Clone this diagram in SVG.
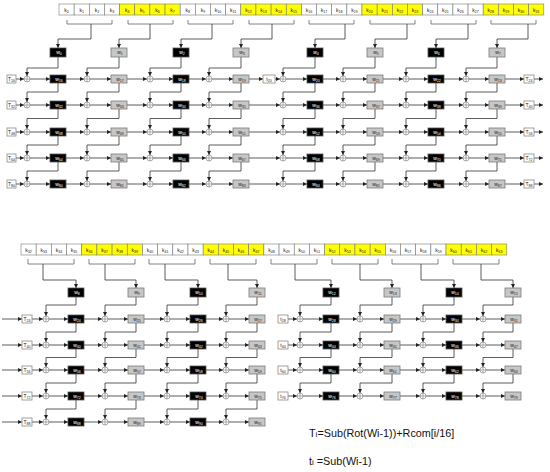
<svg xmlns="http://www.w3.org/2000/svg" width="550" height="472" viewBox="0 0 550 472">
<defs>
<style>
text{font-family:"Liberation Sans",Arial,sans-serif;font-size:5px;text-anchor:middle;fill:#222}
.sub{font-size:3.6px}
.k rect{fill:#fff;stroke:#7a7a7a;stroke-width:.6}
.y rect{fill:#ffff00;stroke:#7a7a7a;stroke-width:.6}
.b rect{fill:#000;stroke:#555;stroke-width:.8}
.b text{fill:#fff}
.g rect{fill:#c6c6c6;stroke:#7a7a7a;stroke-width:.8}
.t rect{fill:#fff;stroke:#8a8a8a;stroke-width:.8}
#cn path{fill:none;stroke:#333;stroke-width:.8}
#cn path.a{marker-end:url(#ar)}
#cn path.br{stroke:#666}
text.f{font-size:10.8px;text-anchor:start;fill:#111}
</style>
<marker id="ar" markerWidth="4" markerHeight="4" refX="4" refY="2" orient="auto" markerUnits="userSpaceOnUse"><path d="M0,0L4,2L0,4z" fill="#222"/></marker>
<g id="xo"><circle r="3" fill="#fff" stroke="#8a8a8a" stroke-width=".7"/><path d="M-3,0H3M0,-3V3" stroke="#8a8a8a" stroke-width=".7"/></g>
</defs>
<rect width="550" height="472" fill="#fff"/>

<g id="connectors">
<g id="cn">
<path class="br" d="M67,20V24H112V20M128,20V24H173V20M188,20V24H233V20M249,20V24H294V20M309,20V24H354V20M370,20V24H415V20M431,20V24H476V20M491,20V24H536V20"/>
<path class="a" d="M91,24V39H58V48"/><path class="a" d="M150,24V39H119V48"/><path class="a" d="M212,24V39H181V48"/><path class="a" d="M272,24V39H241V48"/>
<path class="a" d="M345,24V39H315V48"/><path class="a" d="M407,24V39H375V48"/><path class="a" d="M468,24V39H436V48"/><path class="a" d="M528,24V39H497V48"/>
<path class="a" d="M58,57V68H27V76"/><path class="a" d="M119,57V68H87V76"/><path class="a" d="M181,57V68H150V76"/><path class="a" d="M241,57V68H209V76"/>
<path class="a" d="M315,57V68H283V76"/><path class="a" d="M375,57V68H343V76"/><path class="a" d="M436,57V68H406V76"/><path class="a" d="M497,57V68H466V76"/>
<path class="a" d="M58,83V92H27V102"/><path class="a" d="M119,83V92H87V102"/><path class="a" d="M181,83V92H150V102"/><path class="a" d="M241,83V92H209V102"/>
<path class="a" d="M315,83V92H283V102"/><path class="a" d="M375,83V92H343V102"/><path class="a" d="M436,83V92H406V102"/><path class="a" d="M497,83V92H466V102"/>
<path class="a" d="M58,109V118.5H27V129"/><path class="a" d="M119,109V118.5H87V129"/><path class="a" d="M181,109V118.5H150V129"/><path class="a" d="M241,109V118.5H209V129"/>
<path class="a" d="M315,109V118.5H283V129"/><path class="a" d="M375,109V118.5H343V129"/><path class="a" d="M436,109V118.5H406V129"/><path class="a" d="M497,109V118.5H466V129"/>
<path class="a" d="M58,136V145H27V155"/><path class="a" d="M119,136V145H87V155"/><path class="a" d="M181,136V145H150V155"/><path class="a" d="M241,136V145H209V155"/>
<path class="a" d="M315,136V145H283V155"/><path class="a" d="M375,136V145H343V155"/><path class="a" d="M436,136V145H406V155"/><path class="a" d="M497,136V145H466V155"/>
<path class="a" d="M58,162V171H27V181"/><path class="a" d="M119,162V171H87V181"/><path class="a" d="M181,162V171H150V181"/><path class="a" d="M241,162V171H209V181"/>
<path class="a" d="M315,162V171H283V181"/><path class="a" d="M375,162V171H343V181"/><path class="a" d="M436,162V171H406V181"/><path class="a" d="M497,162V171H466V181"/>

<path class="a" d="M16,79H24"/><path class="a" d="M30,79H50"/><path class="a" d="M66,79H84"/><path class="a" d="M90,79H111"/><path class="a" d="M127,79H147"/><path class="a" d="M153,79H173"/><path class="a" d="M189,79H206"/><path class="a" d="M212,79H233"/><path class="a" d="M249,79H263"/><path class="a" d="M275,79H280"/><path class="a" d="M286,79H307"/><path class="a" d="M323,79H340"/><path class="a" d="M346,79H367"/><path class="a" d="M383,79H403"/><path class="a" d="M409,79H428"/><path class="a" d="M444,79H463"/><path class="a" d="M469,79H489"/><path class="a" d="M505,79H524"/><path class="a" d="M534,79H543"/>
<path class="a" d="M16,105H24"/><path class="a" d="M30,105H50"/><path class="a" d="M66,105H84"/><path class="a" d="M90,105H111"/><path class="a" d="M127,105H147"/><path class="a" d="M153,105H173"/><path class="a" d="M189,105H206"/><path class="a" d="M212,105H233"/><path class="a" d="M249,105H280"/><path class="a" d="M286,105H307"/><path class="a" d="M323,105H340"/><path class="a" d="M346,105H367"/><path class="a" d="M383,105H403"/><path class="a" d="M409,105H428"/><path class="a" d="M444,105H463"/><path class="a" d="M469,105H489"/><path class="a" d="M505,105H524"/><path class="a" d="M534,105H543"/>
<path class="a" d="M16,132H24"/><path class="a" d="M30,132H50"/><path class="a" d="M66,132H84"/><path class="a" d="M90,132H111"/><path class="a" d="M127,132H147"/><path class="a" d="M153,132H173"/><path class="a" d="M189,132H206"/><path class="a" d="M212,132H233"/><path class="a" d="M249,132H280"/><path class="a" d="M286,132H307"/><path class="a" d="M323,132H340"/><path class="a" d="M346,132H367"/><path class="a" d="M383,132H403"/><path class="a" d="M409,132H428"/><path class="a" d="M444,132H463"/><path class="a" d="M469,132H489"/><path class="a" d="M505,132H524"/><path class="a" d="M534,132H543"/>
<path class="a" d="M16,158H24"/><path class="a" d="M30,158H50"/><path class="a" d="M66,158H84"/><path class="a" d="M90,158H111"/><path class="a" d="M127,158H147"/><path class="a" d="M153,158H173"/><path class="a" d="M189,158H206"/><path class="a" d="M212,158H233"/><path class="a" d="M249,158H280"/><path class="a" d="M286,158H307"/><path class="a" d="M323,158H340"/><path class="a" d="M346,158H367"/><path class="a" d="M383,158H403"/><path class="a" d="M409,158H428"/><path class="a" d="M444,158H463"/><path class="a" d="M469,158H489"/><path class="a" d="M505,158H524"/><path class="a" d="M534,158H543"/>
<path class="a" d="M16,184H24"/><path class="a" d="M30,184H50"/><path class="a" d="M66,184H84"/><path class="a" d="M90,184H111"/><path class="a" d="M127,184H147"/><path class="a" d="M153,184H173"/><path class="a" d="M189,184H206"/><path class="a" d="M212,184H233"/><path class="a" d="M249,184H280"/><path class="a" d="M286,184H307"/><path class="a" d="M323,184H340"/><path class="a" d="M346,184H367"/><path class="a" d="M383,184H403"/><path class="a" d="M409,184H428"/><path class="a" d="M444,184H463"/><path class="a" d="M469,184H489"/><path class="a" d="M505,184H524"/><path class="a" d="M534,184H543"/>

<path class="br" d="M28,259V264H74V259M89,259V264H135V259M149,259V264H195V259M210,259V264H256V259M271,259V264H317V259M332,259V264H378V259M392,259V264H438V259M453,259V264H499V259"/>
<path class="a" d="M43,264V280H76V288"/><path class="a" d="M105,264V280H136V288"/><path class="a" d="M165,264V280H198V288"/><path class="a" d="M228,264V280H257V288"/>
<path class="a" d="M295,264V280H331V288"/><path class="a" d="M360,264V280H392V288"/><path class="a" d="M421,264V280H454V288"/><path class="a" d="M481,264V280H513V288"/>
<path class="a" d="M76,297V305H46V316"/><path class="a" d="M136,297V305H105V316"/><path class="a" d="M198,297V305H167V316"/><path class="a" d="M257,297V305H226V316"/>
<path class="a" d="M331,297V305H300V316"/><path class="a" d="M392,297V305H360V316"/><path class="a" d="M454,297V305H423V316"/><path class="a" d="M513,297V305H483V316"/>
<path class="a" d="M76,323V332H46V342"/><path class="a" d="M136,323V332H105V342"/><path class="a" d="M198,323V332H167V342"/><path class="a" d="M257,323V332H226V342"/>
<path class="a" d="M331,323V332H300V342"/><path class="a" d="M392,323V332H360V342"/><path class="a" d="M454,323V332H423V342"/><path class="a" d="M513,323V332H483V342"/>
<path class="a" d="M76,349V357.5H46V367"/><path class="a" d="M136,349V357.5H105V367"/><path class="a" d="M198,349V357.5H167V367"/><path class="a" d="M257,349V357.5H226V367"/>
<path class="a" d="M331,349V357.5H300V367"/><path class="a" d="M392,349V357.5H360V367"/><path class="a" d="M454,349V357.5H423V367"/><path class="a" d="M513,349V357.5H483V367"/>
<path class="a" d="M76,374V383H46V393"/><path class="a" d="M136,374V383H105V393"/><path class="a" d="M198,374V383H167V393"/><path class="a" d="M257,374V383H226V393"/>
<path class="a" d="M331,374V383H300V393"/><path class="a" d="M392,374V383H360V393"/><path class="a" d="M454,374V383H423V393"/><path class="a" d="M513,374V383H483V393"/>
<path class="a" d="M76,400V409H46V419"/><path class="a" d="M136,400V409H105V419"/><path class="a" d="M198,400V409H167V419"/><path class="a" d="M257,400V409H226V419"/>

<path class="a" d="M2,319H22"/><path class="a" d="M32,319H43"/><path class="a" d="M49,319H68"/><path class="a" d="M84,319H102"/><path class="a" d="M108,319H128"/><path class="a" d="M144,319H164"/><path class="a" d="M170,319H190"/><path class="a" d="M206,319H223"/><path class="a" d="M229,319H249"/><path class="a" d="M288,319H297"/><path class="a" d="M303,319H323"/><path class="a" d="M339,319H357"/><path class="a" d="M363,319H384"/><path class="a" d="M400,319H420"/><path class="a" d="M426,319H446"/><path class="a" d="M462,319H480"/><path class="a" d="M486,319H505"/>
<path class="a" d="M2,345H22"/><path class="a" d="M32,345H43"/><path class="a" d="M49,345H68"/><path class="a" d="M84,345H102"/><path class="a" d="M108,345H128"/><path class="a" d="M144,345H164"/><path class="a" d="M170,345H190"/><path class="a" d="M206,345H223"/><path class="a" d="M229,345H249"/><path class="a" d="M288,345H297"/><path class="a" d="M303,345H323"/><path class="a" d="M339,345H357"/><path class="a" d="M363,345H384"/><path class="a" d="M400,345H420"/><path class="a" d="M426,345H446"/><path class="a" d="M462,345H480"/><path class="a" d="M486,345H505"/>
<path class="a" d="M2,370H22"/><path class="a" d="M32,370H43"/><path class="a" d="M49,370H68"/><path class="a" d="M84,370H102"/><path class="a" d="M108,370H128"/><path class="a" d="M144,370H164"/><path class="a" d="M170,370H190"/><path class="a" d="M206,370H223"/><path class="a" d="M229,370H249"/><path class="a" d="M288,370H297"/><path class="a" d="M303,370H323"/><path class="a" d="M339,370H357"/><path class="a" d="M363,370H384"/><path class="a" d="M400,370H420"/><path class="a" d="M426,370H446"/><path class="a" d="M462,370H480"/><path class="a" d="M486,370H505"/>
<path class="a" d="M2,396H22"/><path class="a" d="M32,396H43"/><path class="a" d="M49,396H68"/><path class="a" d="M84,396H102"/><path class="a" d="M108,396H128"/><path class="a" d="M144,396H164"/><path class="a" d="M170,396H190"/><path class="a" d="M206,396H223"/><path class="a" d="M229,396H249"/><path class="a" d="M288,396H297"/><path class="a" d="M303,396H323"/><path class="a" d="M339,396H357"/><path class="a" d="M363,396H384"/><path class="a" d="M400,396H420"/><path class="a" d="M426,396H446"/><path class="a" d="M462,396H480"/><path class="a" d="M486,396H505"/>
<path class="a" d="M2,422H22"/><path class="a" d="M32,422H43"/><path class="a" d="M49,422H68"/><path class="a" d="M84,422H102"/><path class="a" d="M108,422H128"/><path class="a" d="M144,422H164"/><path class="a" d="M170,422H190"/><path class="a" d="M206,422H223"/><path class="a" d="M229,422H249"/>
</g>
</g>

<g id="keys-top">
<g id="k0" class="k"><rect x="59" y="4" width="15.15" height="11"/><text x="66.6" y="11.5">k<tspan class="sub" dy="1">0</tspan></text></g>
<g id="k1" class="k"><rect x="74.15" y="4" width="15.15" height="11"/><text x="81.7" y="11.5">k<tspan class="sub" dy="1">1</tspan></text></g>
<g id="k2" class="k"><rect x="89.3" y="4" width="15.15" height="11"/><text x="96.9" y="11.5">k<tspan class="sub" dy="1">2</tspan></text></g>
<g id="k3" class="k"><rect x="104.45" y="4" width="15.15" height="11"/><text x="112" y="11.5">k<tspan class="sub" dy="1">3</tspan></text></g>
<g id="k4" class="y"><rect x="119.6" y="4" width="15.15" height="11"/><text x="127.2" y="11.5">k<tspan class="sub" dy="1">4</tspan></text></g>
<g id="k5" class="y"><rect x="134.75" y="4" width="15.15" height="11"/><text x="142.3" y="11.5">k<tspan class="sub" dy="1">5</tspan></text></g>
<g id="k6" class="y"><rect x="149.9" y="4" width="15.15" height="11"/><text x="157.5" y="11.5">k<tspan class="sub" dy="1">6</tspan></text></g>
<g id="k7" class="y"><rect x="165.05" y="4" width="15.15" height="11"/><text x="172.6" y="11.5">k<tspan class="sub" dy="1">7</tspan></text></g>
<g id="k8" class="k"><rect x="180.2" y="4" width="15.15" height="11"/><text x="187.8" y="11.5">k<tspan class="sub" dy="1">8</tspan></text></g>
<g id="k9" class="k"><rect x="195.35" y="4" width="15.15" height="11"/><text x="202.9" y="11.5">k<tspan class="sub" dy="1">9</tspan></text></g>
<g id="k10" class="k"><rect x="210.5" y="4" width="15.15" height="11"/><text x="218.1" y="11.5">k<tspan class="sub" dy="1">10</tspan></text></g>
<g id="k11" class="k"><rect x="225.65" y="4" width="15.15" height="11"/><text x="233.2" y="11.5">k<tspan class="sub" dy="1">11</tspan></text></g>
<g id="k12" class="y"><rect x="240.8" y="4" width="15.15" height="11"/><text x="248.4" y="11.5">k<tspan class="sub" dy="1">12</tspan></text></g>
<g id="k13" class="y"><rect x="255.95" y="4" width="15.15" height="11"/><text x="263.5" y="11.5">k<tspan class="sub" dy="1">13</tspan></text></g>
<g id="k14" class="y"><rect x="271.1" y="4" width="15.15" height="11"/><text x="278.7" y="11.5">k<tspan class="sub" dy="1">14</tspan></text></g>
<g id="k15" class="y"><rect x="286.25" y="4" width="15.15" height="11"/><text x="293.8" y="11.5">k<tspan class="sub" dy="1">15</tspan></text></g>
<g id="k16" class="k"><rect x="301.4" y="4" width="15.15" height="11"/><text x="309" y="11.5">k<tspan class="sub" dy="1">16</tspan></text></g>
<g id="k17" class="k"><rect x="316.55" y="4" width="15.15" height="11"/><text x="324.1" y="11.5">k<tspan class="sub" dy="1">17</tspan></text></g>
<g id="k18" class="k"><rect x="331.7" y="4" width="15.15" height="11"/><text x="339.3" y="11.5">k<tspan class="sub" dy="1">18</tspan></text></g>
<g id="k19" class="k"><rect x="346.85" y="4" width="15.15" height="11"/><text x="354.4" y="11.5">k<tspan class="sub" dy="1">19</tspan></text></g>
<g id="k20" class="y"><rect x="362" y="4" width="15.15" height="11"/><text x="369.6" y="11.5">k<tspan class="sub" dy="1">20</tspan></text></g>
<g id="k21" class="y"><rect x="377.15" y="4" width="15.15" height="11"/><text x="384.7" y="11.5">k<tspan class="sub" dy="1">21</tspan></text></g>
<g id="k22" class="y"><rect x="392.3" y="4" width="15.15" height="11"/><text x="399.9" y="11.5">k<tspan class="sub" dy="1">22</tspan></text></g>
<g id="k23" class="y"><rect x="407.45" y="4" width="15.15" height="11"/><text x="415" y="11.5">k<tspan class="sub" dy="1">23</tspan></text></g>
<g id="k24" class="k"><rect x="422.6" y="4" width="15.15" height="11"/><text x="430.2" y="11.5">k<tspan class="sub" dy="1">24</tspan></text></g>
<g id="k25" class="k"><rect x="437.75" y="4" width="15.15" height="11"/><text x="445.3" y="11.5">k<tspan class="sub" dy="1">25</tspan></text></g>
<g id="k26" class="k"><rect x="452.9" y="4" width="15.15" height="11"/><text x="460.5" y="11.5">k<tspan class="sub" dy="1">26</tspan></text></g>
<g id="k27" class="k"><rect x="468.05" y="4" width="15.15" height="11"/><text x="475.6" y="11.5">k<tspan class="sub" dy="1">27</tspan></text></g>
<g id="k28" class="y"><rect x="483.2" y="4" width="15.15" height="11"/><text x="490.8" y="11.5">k<tspan class="sub" dy="1">28</tspan></text></g>
<g id="k29" class="y"><rect x="498.35" y="4" width="15.15" height="11"/><text x="505.9" y="11.5">k<tspan class="sub" dy="1">29</tspan></text></g>
<g id="k30" class="y"><rect x="513.5" y="4" width="15.15" height="11"/><text x="521.1" y="11.5">k<tspan class="sub" dy="1">30</tspan></text></g>
<g id="k31" class="y"><rect x="528.65" y="4" width="15.15" height="11"/><text x="536.2" y="11.5">k<tspan class="sub" dy="1">31</tspan></text></g>
</g>

<g id="keys-bottom">
<g id="k32" class="k"><rect x="21" y="244" width="15.18" height="11"/><text x="28.6" y="251.5">k<tspan class="sub" dy="1">32</tspan></text></g>
<g id="k33" class="k"><rect x="36.18" y="244" width="15.18" height="11"/><text x="43.8" y="251.5">k<tspan class="sub" dy="1">33</tspan></text></g>
<g id="k34" class="k"><rect x="51.36" y="244" width="15.18" height="11"/><text x="58.9" y="251.5">k<tspan class="sub" dy="1">34</tspan></text></g>
<g id="k35" class="k"><rect x="66.54" y="244" width="15.18" height="11"/><text x="74.1" y="251.5">k<tspan class="sub" dy="1">35</tspan></text></g>
<g id="k36" class="y"><rect x="81.72" y="244" width="15.18" height="11"/><text x="89.3" y="251.5">k<tspan class="sub" dy="1">36</tspan></text></g>
<g id="k37" class="y"><rect x="96.9" y="244" width="15.18" height="11"/><text x="104.5" y="251.5">k<tspan class="sub" dy="1">37</tspan></text></g>
<g id="k38" class="y"><rect x="112.08" y="244" width="15.18" height="11"/><text x="119.7" y="251.5">k<tspan class="sub" dy="1">38</tspan></text></g>
<g id="k39" class="y"><rect x="127.26" y="244" width="15.18" height="11"/><text x="134.8" y="251.5">k<tspan class="sub" dy="1">39</tspan></text></g>
<g id="k40" class="k"><rect x="142.44" y="244" width="15.18" height="11"/><text x="150" y="251.5">k<tspan class="sub" dy="1">40</tspan></text></g>
<g id="k41" class="k"><rect x="157.62" y="244" width="15.18" height="11"/><text x="165.2" y="251.5">k<tspan class="sub" dy="1">41</tspan></text></g>
<g id="k42" class="k"><rect x="172.8" y="244" width="15.18" height="11"/><text x="180.4" y="251.5">k<tspan class="sub" dy="1">42</tspan></text></g>
<g id="k43" class="k"><rect x="187.98" y="244" width="15.18" height="11"/><text x="195.6" y="251.5">k<tspan class="sub" dy="1">43</tspan></text></g>
<g id="k44" class="y"><rect x="203.16" y="244" width="15.18" height="11"/><text x="210.7" y="251.5">k<tspan class="sub" dy="1">44</tspan></text></g>
<g id="k45" class="y"><rect x="218.34" y="244" width="15.18" height="11"/><text x="225.9" y="251.5">k<tspan class="sub" dy="1">45</tspan></text></g>
<g id="k46" class="y"><rect x="233.52" y="244" width="15.18" height="11"/><text x="241.1" y="251.5">k<tspan class="sub" dy="1">46</tspan></text></g>
<g id="k47" class="y"><rect x="248.7" y="244" width="15.18" height="11"/><text x="256.3" y="251.5">k<tspan class="sub" dy="1">47</tspan></text></g>
<g id="k48" class="k"><rect x="263.88" y="244" width="15.18" height="11"/><text x="271.5" y="251.5">k<tspan class="sub" dy="1">48</tspan></text></g>
<g id="k49" class="k"><rect x="279.06" y="244" width="15.18" height="11"/><text x="286.6" y="251.5">k<tspan class="sub" dy="1">49</tspan></text></g>
<g id="k50" class="k"><rect x="294.24" y="244" width="15.18" height="11"/><text x="301.8" y="251.5">k<tspan class="sub" dy="1">50</tspan></text></g>
<g id="k51" class="k"><rect x="309.42" y="244" width="15.18" height="11"/><text x="317" y="251.5">k<tspan class="sub" dy="1">51</tspan></text></g>
<g id="k52" class="y"><rect x="324.6" y="244" width="15.18" height="11"/><text x="332.2" y="251.5">k<tspan class="sub" dy="1">52</tspan></text></g>
<g id="k53" class="y"><rect x="339.78" y="244" width="15.18" height="11"/><text x="347.4" y="251.5">k<tspan class="sub" dy="1">53</tspan></text></g>
<g id="k54" class="y"><rect x="354.96" y="244" width="15.18" height="11"/><text x="362.6" y="251.5">k<tspan class="sub" dy="1">54</tspan></text></g>
<g id="k55" class="y"><rect x="370.14" y="244" width="15.18" height="11"/><text x="377.7" y="251.5">k<tspan class="sub" dy="1">55</tspan></text></g>
<g id="k56" class="k"><rect x="385.32" y="244" width="15.18" height="11"/><text x="392.9" y="251.5">k<tspan class="sub" dy="1">56</tspan></text></g>
<g id="k57" class="k"><rect x="400.5" y="244" width="15.18" height="11"/><text x="408.1" y="251.5">k<tspan class="sub" dy="1">57</tspan></text></g>
<g id="k58" class="k"><rect x="415.68" y="244" width="15.18" height="11"/><text x="423.3" y="251.5">k<tspan class="sub" dy="1">58</tspan></text></g>
<g id="k59" class="k"><rect x="430.86" y="244" width="15.18" height="11"/><text x="438.4" y="251.5">k<tspan class="sub" dy="1">59</tspan></text></g>
<g id="k60" class="y"><rect x="446.04" y="244" width="15.18" height="11"/><text x="453.6" y="251.5">k<tspan class="sub" dy="1">60</tspan></text></g>
<g id="k61" class="y"><rect x="461.22" y="244" width="15.18" height="11"/><text x="468.8" y="251.5">k<tspan class="sub" dy="1">61</tspan></text></g>
<g id="k62" class="y"><rect x="476.4" y="244" width="15.18" height="11"/><text x="484" y="251.5">k<tspan class="sub" dy="1">62</tspan></text></g>
<g id="k63" class="y"><rect x="491.58" y="244" width="15.18" height="11"/><text x="499.2" y="251.5">k<tspan class="sub" dy="1">63</tspan></text></g>
</g>

<g id="words-top">
<g id="w0" class="b"><rect x="50" y="48" width="16" height="9"/><text x="59" y="54.3">w<tspan class="sub" dy="1">0</tspan></text></g>
<g id="w1" class="g"><rect x="111" y="48" width="16" height="9"/><text x="120" y="54.3">w<tspan class="sub" dy="1">1</tspan></text></g>
<g id="w2" class="b"><rect x="173" y="48" width="16" height="9"/><text x="182" y="54.3">w<tspan class="sub" dy="1">2</tspan></text></g>
<g id="w3" class="g"><rect x="233" y="48" width="16" height="9"/><text x="242" y="54.3">w<tspan class="sub" dy="1">3</tspan></text></g>
<g id="w4" class="b"><rect x="307" y="48" width="16" height="9"/><text x="316" y="54.3">w<tspan class="sub" dy="1">4</tspan></text></g>
<g id="w5" class="g"><rect x="367" y="48" width="16" height="9"/><text x="376" y="54.3">w<tspan class="sub" dy="1">5</tspan></text></g>
<g id="w6" class="b"><rect x="428" y="48" width="16" height="9"/><text x="437" y="54.3">w<tspan class="sub" dy="1">6</tspan></text></g>
<g id="w7" class="g"><rect x="489" y="48" width="16" height="9"/><text x="498" y="54.3">w<tspan class="sub" dy="1">7</tspan></text></g>

<g id="T16" class="t"><rect x="7" y="75" width="9" height="8"/><text x="11.5" y="80.8">T<tspan class="sub" dy="1">16</tspan></text></g>
<g id="T32" class="t"><rect x="7" y="101" width="9" height="8"/><text x="11.5" y="106.8">T<tspan class="sub" dy="1">32</tspan></text></g>
<g id="T48" class="t"><rect x="7" y="128" width="9" height="8"/><text x="11.5" y="133.8">T<tspan class="sub" dy="1">48</tspan></text></g>
<g id="T64" class="t"><rect x="7" y="154" width="9" height="8"/><text x="11.5" y="159.8">T<tspan class="sub" dy="1">64</tspan></text></g>
<g id="T80" class="t"><rect x="7" y="180" width="9" height="8"/><text x="11.5" y="185.8">T<tspan class="sub" dy="1">80</tspan></text></g>
<g id="t20" class="t"><rect x="263" y="75" width="12" height="8"/><text x="269" y="80.8">t<tspan class="sub" dy="1">20</tspan></text></g>
<g id="T24r" class="t"><rect x="524" y="75" width="10" height="8"/><text x="529" y="80.8">T<tspan class="sub" dy="1">24</tspan></text></g>
<g id="T40r" class="t"><rect x="524" y="101" width="10" height="8"/><text x="529" y="106.8">T<tspan class="sub" dy="1">40</tspan></text></g>
<g id="T56r" class="t"><rect x="524" y="128" width="10" height="8"/><text x="529" y="133.8">T<tspan class="sub" dy="1">56</tspan></text></g>
<g id="T72r" class="t"><rect x="524" y="154" width="10" height="8"/><text x="529" y="159.8">T<tspan class="sub" dy="1">72</tspan></text></g>
<g id="T88r" class="t"><rect x="524" y="180" width="10" height="8"/><text x="529" y="185.8">T<tspan class="sub" dy="1">88</tspan></text></g>

<g id="w16" class="b"><rect x="50" y="75" width="16" height="8"/><text x="59" y="80.8">w<tspan class="sub" dy="1">16</tspan></text></g>
<g id="w17" class="g"><rect x="111" y="75" width="16" height="8"/><text x="120" y="80.8">w<tspan class="sub" dy="1">17</tspan></text></g>
<g id="w18" class="b"><rect x="173" y="75" width="16" height="8"/><text x="182" y="80.8">w<tspan class="sub" dy="1">18</tspan></text></g>
<g id="w19" class="g"><rect x="233" y="75" width="16" height="8"/><text x="242" y="80.8">w<tspan class="sub" dy="1">19</tspan></text></g>
<g id="w20" class="b"><rect x="307" y="75" width="16" height="8"/><text x="316" y="80.8">w<tspan class="sub" dy="1">20</tspan></text></g>
<g id="w21" class="g"><rect x="367" y="75" width="16" height="8"/><text x="376" y="80.8">w<tspan class="sub" dy="1">21</tspan></text></g>
<g id="w22" class="b"><rect x="428" y="75" width="16" height="8"/><text x="437" y="80.8">w<tspan class="sub" dy="1">22</tspan></text></g>
<g id="w23" class="g"><rect x="489" y="75" width="16" height="8"/><text x="498" y="80.8">w<tspan class="sub" dy="1">23</tspan></text></g>

<g id="w32" class="b"><rect x="50" y="101" width="16" height="8"/><text x="59" y="106.8">w<tspan class="sub" dy="1">32</tspan></text></g>
<g id="w33" class="g"><rect x="111" y="101" width="16" height="8"/><text x="120" y="106.8">w<tspan class="sub" dy="1">33</tspan></text></g>
<g id="w34" class="b"><rect x="173" y="101" width="16" height="8"/><text x="182" y="106.8">w<tspan class="sub" dy="1">34</tspan></text></g>
<g id="w35" class="g"><rect x="233" y="101" width="16" height="8"/><text x="242" y="106.8">w<tspan class="sub" dy="1">35</tspan></text></g>
<g id="w36" class="b"><rect x="307" y="101" width="16" height="8"/><text x="316" y="106.8">w<tspan class="sub" dy="1">36</tspan></text></g>
<g id="w37" class="g"><rect x="367" y="101" width="16" height="8"/><text x="376" y="106.8">w<tspan class="sub" dy="1">37</tspan></text></g>
<g id="w38" class="b"><rect x="428" y="101" width="16" height="8"/><text x="437" y="106.8">w<tspan class="sub" dy="1">38</tspan></text></g>
<g id="w39" class="g"><rect x="489" y="101" width="16" height="8"/><text x="498" y="106.8">w<tspan class="sub" dy="1">39</tspan></text></g>

<g id="w48" class="b"><rect x="50" y="128" width="16" height="8"/><text x="59" y="133.8">w<tspan class="sub" dy="1">48</tspan></text></g>
<g id="w49" class="g"><rect x="111" y="128" width="16" height="8"/><text x="120" y="133.8">w<tspan class="sub" dy="1">49</tspan></text></g>
<g id="w50" class="b"><rect x="173" y="128" width="16" height="8"/><text x="182" y="133.8">w<tspan class="sub" dy="1">50</tspan></text></g>
<g id="w51" class="g"><rect x="233" y="128" width="16" height="8"/><text x="242" y="133.8">w<tspan class="sub" dy="1">51</tspan></text></g>
<g id="w52" class="b"><rect x="307" y="128" width="16" height="8"/><text x="316" y="133.8">w<tspan class="sub" dy="1">52</tspan></text></g>
<g id="w53" class="g"><rect x="367" y="128" width="16" height="8"/><text x="376" y="133.8">w<tspan class="sub" dy="1">53</tspan></text></g>
<g id="w54" class="b"><rect x="428" y="128" width="16" height="8"/><text x="437" y="133.8">w<tspan class="sub" dy="1">54</tspan></text></g>
<g id="w55" class="g"><rect x="489" y="128" width="16" height="8"/><text x="498" y="133.8">w<tspan class="sub" dy="1">55</tspan></text></g>

<g id="w64" class="b"><rect x="50" y="154" width="16" height="8"/><text x="59" y="159.8">w<tspan class="sub" dy="1">64</tspan></text></g>
<g id="w65" class="g"><rect x="111" y="154" width="16" height="8"/><text x="120" y="159.8">w<tspan class="sub" dy="1">65</tspan></text></g>
<g id="w66" class="b"><rect x="173" y="154" width="16" height="8"/><text x="182" y="159.8">w<tspan class="sub" dy="1">66</tspan></text></g>
<g id="w67" class="g"><rect x="233" y="154" width="16" height="8"/><text x="242" y="159.8">w<tspan class="sub" dy="1">67</tspan></text></g>
<g id="w68" class="b"><rect x="307" y="154" width="16" height="8"/><text x="316" y="159.8">w<tspan class="sub" dy="1">68</tspan></text></g>
<g id="w69" class="g"><rect x="367" y="154" width="16" height="8"/><text x="376" y="159.8">w<tspan class="sub" dy="1">69</tspan></text></g>
<g id="w70" class="b"><rect x="428" y="154" width="16" height="8"/><text x="437" y="159.8">w<tspan class="sub" dy="1">70</tspan></text></g>
<g id="w71" class="g"><rect x="489" y="154" width="16" height="8"/><text x="498" y="159.8">w<tspan class="sub" dy="1">71</tspan></text></g>

<g id="w80" class="b"><rect x="50" y="180" width="16" height="8"/><text x="59" y="185.8">w<tspan class="sub" dy="1">80</tspan></text></g>
<g id="w81" class="g"><rect x="111" y="180" width="16" height="8"/><text x="120" y="185.8">w<tspan class="sub" dy="1">81</tspan></text></g>
<g id="w82" class="b"><rect x="173" y="180" width="16" height="8"/><text x="182" y="185.8">w<tspan class="sub" dy="1">82</tspan></text></g>
<g id="w83" class="g"><rect x="233" y="180" width="16" height="8"/><text x="242" y="185.8">w<tspan class="sub" dy="1">83</tspan></text></g>
<g id="w84" class="b"><rect x="307" y="180" width="16" height="8"/><text x="316" y="185.8">w<tspan class="sub" dy="1">84</tspan></text></g>
<g id="w85" class="g"><rect x="367" y="180" width="16" height="8"/><text x="376" y="185.8">w<tspan class="sub" dy="1">85</tspan></text></g>
<g id="w86" class="b"><rect x="428" y="180" width="16" height="8"/><text x="437" y="185.8">w<tspan class="sub" dy="1">86</tspan></text></g>
<g id="w87" class="g"><rect x="489" y="180" width="16" height="8"/><text x="498" y="185.8">w<tspan class="sub" dy="1">87</tspan></text></g>
</g>

<g id="xor-top">
<use href="#xo" x="27" y="79"/><use href="#xo" x="87" y="79"/><use href="#xo" x="150" y="79"/><use href="#xo" x="209" y="79"/><use href="#xo" x="283" y="79"/><use href="#xo" x="343" y="79"/><use href="#xo" x="406" y="79"/><use href="#xo" x="466" y="79"/>
<use href="#xo" x="27" y="105"/><use href="#xo" x="87" y="105"/><use href="#xo" x="150" y="105"/><use href="#xo" x="209" y="105"/><use href="#xo" x="283" y="105"/><use href="#xo" x="343" y="105"/><use href="#xo" x="406" y="105"/><use href="#xo" x="466" y="105"/>
<use href="#xo" x="27" y="132"/><use href="#xo" x="87" y="132"/><use href="#xo" x="150" y="132"/><use href="#xo" x="209" y="132"/><use href="#xo" x="283" y="132"/><use href="#xo" x="343" y="132"/><use href="#xo" x="406" y="132"/><use href="#xo" x="466" y="132"/>
<use href="#xo" x="27" y="158"/><use href="#xo" x="87" y="158"/><use href="#xo" x="150" y="158"/><use href="#xo" x="209" y="158"/><use href="#xo" x="283" y="158"/><use href="#xo" x="343" y="158"/><use href="#xo" x="406" y="158"/><use href="#xo" x="466" y="158"/>
<use href="#xo" x="27" y="184"/><use href="#xo" x="87" y="184"/><use href="#xo" x="150" y="184"/><use href="#xo" x="209" y="184"/><use href="#xo" x="283" y="184"/><use href="#xo" x="343" y="184"/><use href="#xo" x="406" y="184"/><use href="#xo" x="466" y="184"/>
</g>

<g id="words-bottom">
<g id="w8" class="b"><rect x="68" y="288" width="16" height="9"/><text x="77" y="294.3">w<tspan class="sub" dy="1">8</tspan></text></g>
<g id="w9" class="g"><rect x="128" y="288" width="16" height="9"/><text x="137" y="294.3">w<tspan class="sub" dy="1">9</tspan></text></g>
<g id="w10" class="b"><rect x="190" y="288" width="16" height="9"/><text x="199" y="294.3">w<tspan class="sub" dy="1">10</tspan></text></g>
<g id="w11" class="g"><rect x="249" y="288" width="16" height="9"/><text x="258" y="294.3">w<tspan class="sub" dy="1">11</tspan></text></g>
<g id="w12" class="b"><rect x="323" y="288" width="16" height="9"/><text x="332" y="294.3">w<tspan class="sub" dy="1">12</tspan></text></g>
<g id="w13" class="g"><rect x="384" y="288" width="16" height="9"/><text x="393" y="294.3">w<tspan class="sub" dy="1">13</tspan></text></g>
<g id="w14" class="b"><rect x="446" y="288" width="16" height="9"/><text x="455" y="294.3">w<tspan class="sub" dy="1">14</tspan></text></g>
<g id="w15" class="g"><rect x="505" y="288" width="16" height="9"/><text x="514" y="294.3">w<tspan class="sub" dy="1">15</tspan></text></g>

<g id="T24" class="t"><rect x="22" y="315" width="10" height="8"/><text x="27" y="320.8">T<tspan class="sub" dy="1">24</tspan></text></g>
<g id="T40" class="t"><rect x="22" y="341" width="10" height="8"/><text x="27" y="346.8">T<tspan class="sub" dy="1">40</tspan></text></g>
<g id="T56" class="t"><rect x="22" y="366" width="10" height="8"/><text x="27" y="371.8">T<tspan class="sub" dy="1">56</tspan></text></g>
<g id="T72" class="t"><rect x="22" y="392" width="10" height="8"/><text x="27" y="397.8">T<tspan class="sub" dy="1">72</tspan></text></g>
<g id="T88" class="t"><rect x="22" y="418" width="10" height="8"/><text x="27" y="423.8">T<tspan class="sub" dy="1">88</tspan></text></g>
<g id="t28" class="t"><rect x="278" y="315" width="10" height="8"/><text x="283" y="320.8">t<tspan class="sub" dy="1">28</tspan></text></g>
<g id="t44" class="t"><rect x="278" y="341" width="10" height="8"/><text x="283" y="346.8">t<tspan class="sub" dy="1">44</tspan></text></g>
<g id="t60" class="t"><rect x="278" y="366" width="10" height="8"/><text x="283" y="371.8">t<tspan class="sub" dy="1">60</tspan></text></g>
<g id="t76" class="t"><rect x="278" y="392" width="10" height="8"/><text x="283" y="397.8">t<tspan class="sub" dy="1">76</tspan></text></g>

<g id="w24" class="b"><rect x="68" y="315" width="16" height="8"/><text x="77" y="320.8">w<tspan class="sub" dy="1">24</tspan></text></g>
<g id="w25" class="g"><rect x="128" y="315" width="16" height="8"/><text x="137" y="320.8">w<tspan class="sub" dy="1">25</tspan></text></g>
<g id="w26" class="b"><rect x="190" y="315" width="16" height="8"/><text x="199" y="320.8">w<tspan class="sub" dy="1">26</tspan></text></g>
<g id="w27" class="g"><rect x="249" y="315" width="16" height="8"/><text x="258" y="320.8">w<tspan class="sub" dy="1">27</tspan></text></g>
<g id="w28" class="b"><rect x="323" y="315" width="16" height="8"/><text x="332" y="320.8">w<tspan class="sub" dy="1">28</tspan></text></g>
<g id="w29" class="g"><rect x="384" y="315" width="16" height="8"/><text x="393" y="320.8">w<tspan class="sub" dy="1">29</tspan></text></g>
<g id="w30" class="b"><rect x="446" y="315" width="16" height="8"/><text x="455" y="320.8">w<tspan class="sub" dy="1">30</tspan></text></g>
<g id="w31" class="g"><rect x="505" y="315" width="16" height="8"/><text x="514" y="320.8">w<tspan class="sub" dy="1">31</tspan></text></g>

<g id="w40" class="b"><rect x="68" y="341" width="16" height="8"/><text x="77" y="346.8">w<tspan class="sub" dy="1">40</tspan></text></g>
<g id="w41" class="g"><rect x="128" y="341" width="16" height="8"/><text x="137" y="346.8">w<tspan class="sub" dy="1">41</tspan></text></g>
<g id="w42" class="b"><rect x="190" y="341" width="16" height="8"/><text x="199" y="346.8">w<tspan class="sub" dy="1">42</tspan></text></g>
<g id="w43" class="g"><rect x="249" y="341" width="16" height="8"/><text x="258" y="346.8">w<tspan class="sub" dy="1">43</tspan></text></g>
<g id="w44" class="b"><rect x="323" y="341" width="16" height="8"/><text x="332" y="346.8">w<tspan class="sub" dy="1">44</tspan></text></g>
<g id="w45" class="g"><rect x="384" y="341" width="16" height="8"/><text x="393" y="346.8">w<tspan class="sub" dy="1">45</tspan></text></g>
<g id="w46" class="b"><rect x="446" y="341" width="16" height="8"/><text x="455" y="346.8">w<tspan class="sub" dy="1">46</tspan></text></g>
<g id="w47" class="g"><rect x="505" y="341" width="16" height="8"/><text x="514" y="346.8">w<tspan class="sub" dy="1">47</tspan></text></g>

<g id="w56" class="b"><rect x="68" y="366" width="16" height="8"/><text x="77" y="371.8">w<tspan class="sub" dy="1">56</tspan></text></g>
<g id="w57" class="g"><rect x="128" y="366" width="16" height="8"/><text x="137" y="371.8">w<tspan class="sub" dy="1">57</tspan></text></g>
<g id="w58" class="b"><rect x="190" y="366" width="16" height="8"/><text x="199" y="371.8">w<tspan class="sub" dy="1">58</tspan></text></g>
<g id="w59" class="g"><rect x="249" y="366" width="16" height="8"/><text x="258" y="371.8">w<tspan class="sub" dy="1">59</tspan></text></g>
<g id="w60" class="b"><rect x="323" y="366" width="16" height="8"/><text x="332" y="371.8">w<tspan class="sub" dy="1">60</tspan></text></g>
<g id="w61" class="g"><rect x="384" y="366" width="16" height="8"/><text x="393" y="371.8">w<tspan class="sub" dy="1">61</tspan></text></g>
<g id="w62" class="b"><rect x="446" y="366" width="16" height="8"/><text x="455" y="371.8">w<tspan class="sub" dy="1">62</tspan></text></g>
<g id="w63" class="g"><rect x="505" y="366" width="16" height="8"/><text x="514" y="371.8">w<tspan class="sub" dy="1">63</tspan></text></g>

<g id="w72" class="b"><rect x="68" y="392" width="16" height="8"/><text x="77" y="397.8">w<tspan class="sub" dy="1">72</tspan></text></g>
<g id="w73" class="g"><rect x="128" y="392" width="16" height="8"/><text x="137" y="397.8">w<tspan class="sub" dy="1">73</tspan></text></g>
<g id="w74" class="b"><rect x="190" y="392" width="16" height="8"/><text x="199" y="397.8">w<tspan class="sub" dy="1">74</tspan></text></g>
<g id="w75" class="g"><rect x="249" y="392" width="16" height="8"/><text x="258" y="397.8">w<tspan class="sub" dy="1">75</tspan></text></g>
<g id="w76" class="b"><rect x="323" y="392" width="16" height="8"/><text x="332" y="397.8">w<tspan class="sub" dy="1">76</tspan></text></g>
<g id="w77" class="g"><rect x="384" y="392" width="16" height="8"/><text x="393" y="397.8">w<tspan class="sub" dy="1">77</tspan></text></g>
<g id="w78" class="b"><rect x="446" y="392" width="16" height="8"/><text x="455" y="397.8">w<tspan class="sub" dy="1">78</tspan></text></g>
<g id="w79" class="g"><rect x="505" y="392" width="16" height="8"/><text x="514" y="397.8">w<tspan class="sub" dy="1">79</tspan></text></g>

<g id="w88" class="b"><rect x="68" y="418" width="16" height="8"/><text x="77" y="423.8">w<tspan class="sub" dy="1">88</tspan></text></g>
<g id="w89" class="g"><rect x="128" y="418" width="16" height="8"/><text x="137" y="423.8">w<tspan class="sub" dy="1">89</tspan></text></g>
<g id="w90" class="b"><rect x="190" y="418" width="16" height="8"/><text x="199" y="423.8">w<tspan class="sub" dy="1">90</tspan></text></g>
<g id="w91" class="g"><rect x="249" y="418" width="16" height="8"/><text x="258" y="423.8">w<tspan class="sub" dy="1">91</tspan></text></g>
</g>

<g id="xor-bottom">
<use href="#xo" x="46" y="319"/><use href="#xo" x="105" y="319"/><use href="#xo" x="167" y="319"/><use href="#xo" x="226" y="319"/><use href="#xo" x="300" y="319"/><use href="#xo" x="360" y="319"/><use href="#xo" x="423" y="319"/><use href="#xo" x="483" y="319"/>
<use href="#xo" x="46" y="345"/><use href="#xo" x="105" y="345"/><use href="#xo" x="167" y="345"/><use href="#xo" x="226" y="345"/><use href="#xo" x="300" y="345"/><use href="#xo" x="360" y="345"/><use href="#xo" x="423" y="345"/><use href="#xo" x="483" y="345"/>
<use href="#xo" x="46" y="370"/><use href="#xo" x="105" y="370"/><use href="#xo" x="167" y="370"/><use href="#xo" x="226" y="370"/><use href="#xo" x="300" y="370"/><use href="#xo" x="360" y="370"/><use href="#xo" x="423" y="370"/><use href="#xo" x="483" y="370"/>
<use href="#xo" x="46" y="396"/><use href="#xo" x="105" y="396"/><use href="#xo" x="167" y="396"/><use href="#xo" x="226" y="396"/><use href="#xo" x="300" y="396"/><use href="#xo" x="360" y="396"/><use href="#xo" x="423" y="396"/><use href="#xo" x="483" y="396"/>
<use href="#xo" x="46" y="422"/><use href="#xo" x="105" y="422"/><use href="#xo" x="167" y="422"/><use href="#xo" x="226" y="422"/>
</g>

<g id="formulas">
<text class="f" x="309" y="437">T<tspan font-size="8">i</tspan>=Sub(Rot(Wi-1))+Rcom[i/16]</text>
<text class="f" x="309" y="465">t<tspan font-size="8">i</tspan> =Sub(Wi-1)</text>
</g>
</svg>
